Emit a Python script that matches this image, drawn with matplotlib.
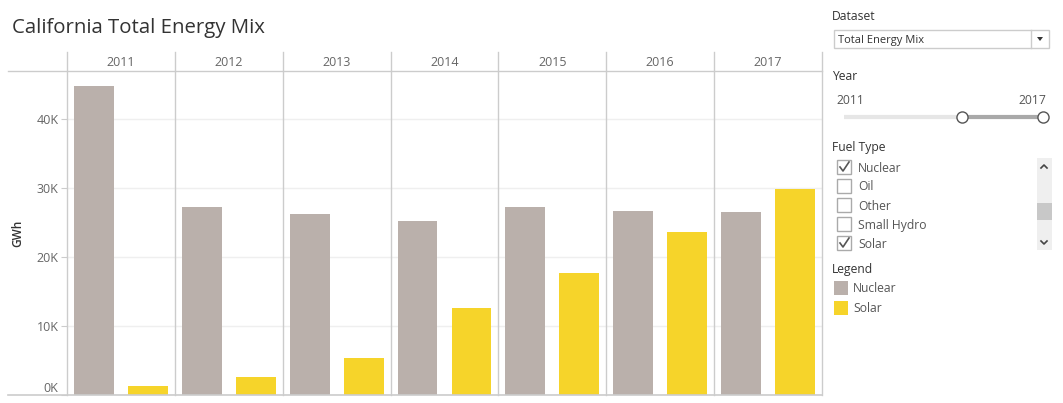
import matplotlib

matplotlib.use("Agg")
import matplotlib.pyplot as plt
from matplotlib.patches import Rectangle, Polygon
from matplotlib.ticker import FuncFormatter, MultipleLocator

# data (GWh)
years = ["2011", "2012", "2013", "2014", "2015", "2016", "2017"]
nuclear = [44800, 27200, 26200, 25200, 27200, 26700, 26500]
solar = [1300, 2600, 5400, 12600, 17700, 23600, 29900]

fuel_types = ["Nuclear", "Oil", "Other", "Small Hydro", "Solar"]
fuel_checked = [True, False, False, False, True]
legend_items = ["Nuclear", "Solar"]

NUCLEAR_C = "#bab0ab"
SOLAR_C = "#f6d42a"
LEGEND_C = [NUCLEAR_C, SOLAR_C]

W, H = 1063, 403
plt.rcParams["font.family"] = ["Open Sans", "DejaVu Sans"]

fig = plt.figure(figsize=(W / 100, H / 100), dpi=100)

# main plot area in pixels: x 67..822, y 71..395
L, R, T, B = 67, 822, 71, 395
ax = fig.add_axes([L / W, 1 - B / H, (R - L) / W, (B - T) / H])

bw = 0.37
xs = range(len(years))
ax.bar([i + 0.25 for i in xs], nuclear, width=bw, color=NUCLEAR_C, zorder=2)
ax.bar([i + 0.75 for i in xs], solar, width=bw, color=SOLAR_C, zorder=2)

ax.set_xlim(0, len(years))
ax.set_ylim(0, 46950)
ax.set_xticks([])
ax.yaxis.set_major_locator(MultipleLocator(10000))
ax.yaxis.set_major_formatter(FuncFormatter(lambda v, p: f"{int(v / 1000)}K"))
ax.tick_params(axis="y", length=4, color="#cccccc", labelcolor="#666666", labelsize=9, pad=2)
for lab in ax.get_yticklabels():
    if lab.get_text() == "0K":
        lab.set_verticalalignment("bottom")
ax.grid(axis="y", color="#efefef", lw=1, zorder=0)
for s in ax.spines.values():
    s.set_visible(False)
ax.set_ylabel("GWh", color="#333333", fontsize=8.5, fontweight="semibold")
ax.yaxis.set_label_coords(-(L - 24) / (R - L), 0.5)

# panel separators and year headers
top_ext = (B - 52) / (B - T)
for i in range(len(years) + 1):
    ax.axvline(i, ymin=0, ymax=top_ext, color="#cccccc", lw=1, clip_on=False, zorder=3)
for i, y in enumerate(years):
    ax.text(i + 0.5, (B - 62) / (B - T), y, transform=ax.get_xaxis_transform(),
            ha="center", va="center", fontsize=9, color="#666666")

# overlay in pixel coordinates for header rules and the side controls
ui = fig.add_axes([0, 0, 1, 1], zorder=5)
ui.set_xlim(0, W)
ui.set_ylim(H, 0)
ui.axis("off")
ui.patch.set_alpha(0)

ui.plot([8, R], [T, T], color="#cccccc", lw=1)
ui.plot([8, R], [B, B], color="#cccccc", lw=1.2)

ui.text(12, 28, "California Total Energy Mix", fontsize=14.7, color="#333333", va="center")

head = dict(fontsize=8.7, color="#333333", va="center")
item = dict(fontsize=8.7, color="#555555", va="center")

# dataset dropdown
ui.text(832, 17, "Dataset", **head)
ui.add_patch(Rectangle((834, 30), 215, 18, fc="white", ec="#cccccc", lw=1))
ui.plot([1031, 1031], [30, 48], color="#cccccc", lw=1)
ui.add_patch(Polygon([[1037, 37], [1043, 37], [1040, 41]], closed=True, fc="#333333", ec="none"))
ui.text(838, 40, "Total Energy Mix", fontsize=8, color="#333333", va="center")

# year slider
ui.text(832, 77, "Year", **head)
ui.text(836, 100, years[0], **item)
ui.text(1046, 100, years[-1], ha="right", **item)
ui.plot([844, 962], [117, 117], color="#e6e6e6", lw=3, solid_capstyle="butt")
ui.plot([962, 1043], [117, 117], color="#a9a9a9", lw=3, solid_capstyle="butt")
ui.plot([962, 1043], [117, 117], "o", ms=8, mfc="white", mec="#555555", mew=1)

# fuel type filter
ui.text(832, 147, "Fuel Type", **head)
ui.add_patch(Rectangle((1037, 158), 15, 92, fc="#efefef", ec="none"))
ui.add_patch(Rectangle((1037, 203), 15, 17, fc="#c8c8c8", ec="none"))
ui.plot([1041, 1044, 1047], [168, 165, 168], color="#444444", lw=1.2)
ui.plot([1041, 1044, 1047], [241, 244, 241], color="#444444", lw=1.2)
for k, (name, on) in enumerate(zip(fuel_types, fuel_checked)):
    yc = 167 + k * 19
    ui.add_patch(Rectangle((837, yc - 7), 14, 14, fc="white", ec="#aaaaaa", lw=1))
    if on:
        ui.plot([840, 843, 849], [yc, yc + 4, yc - 5], color="#555555", lw=1.2)
    ui.text(858, yc + 1, name, **item)

# legend
ui.text(832, 269, "Legend", **head)
for k, (name, c) in enumerate(zip(legend_items, LEGEND_C)):
    yc = 287.5 + k * 20
    ui.add_patch(Rectangle((834, yc - 7), 14, 14, fc=c, ec="none"))
    ui.text(853, yc + 1, name, **item)

fig.savefig("out.png", dpi=100)
